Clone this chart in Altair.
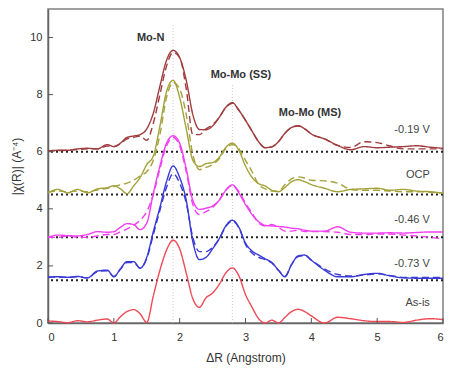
import altair as alt
import pandas as pd

R = [0, 0.15, 0.3, 0.45, 0.6, 0.75, 0.9, 1.0, 1.1, 1.2, 1.3, 1.4, 1.5, 1.6, 1.7, 1.8, 1.9, 2.0,
     2.1, 2.2, 2.3, 2.4, 2.5, 2.6, 2.7, 2.8, 2.9, 3.0, 3.1, 3.2, 3.3, 3.4, 3.5, 3.6, 3.7, 3.8,
     3.9, 4.0, 4.2, 4.4, 4.6, 4.8, 5.0, 5.2, 5.4, 5.6, 5.8, 6.0]

asis = [0.07, 0.05, 0.01, 0.08, 0.04, 0.1, 0.14, 0.0, 0.22, 0.4, 0.47, 0.32, 0.02, 0.95, 1.85, 2.55, 2.9, 2.6,
        1.75, 0.85, 0.55, 0.88, 1.05, 1.35, 1.75, 1.93, 1.65, 1.0, 0.55, 0.15, 0.0, 0.1, 0.0, 0.2, 0.4, 0.48,
        0.4, 0.25, 0.0, 0.2, 0.15, 0.08, 0.05, 0.05, 0.02, 0.1, 0.15, 0.12]

v073 = [1.61, 1.62, 1.6, 1.63, 1.58, 1.82, 1.85, 1.62, 1.9, 2.15, 2.15, 1.92, 2.3, 3.2, 4.05, 4.95, 5.5, 5.1,
        4.3, 2.85, 2.22, 2.3, 2.6, 2.95, 3.4, 3.6, 3.35, 2.8, 2.52, 2.38, 2.25, 2.12, 1.85, 1.62, 2.05, 2.35,
        2.38, 2.2, 1.85, 1.62, 1.62, 1.7, 1.74, 1.65, 1.58, 1.57, 1.57, 1.57]
v073d = [1.6, 1.61, 1.6, 1.62, 1.58, 1.8, 1.83, 1.63, 1.88, 2.12, 2.12, 1.92, 2.25, 3.1, 3.95, 4.75, 5.23, 4.9,
         4.2, 3.0, 2.5, 2.5, 2.65, 2.95, 3.38, 3.58, 3.33, 2.75, 2.45, 2.3, 2.22, 2.1, 1.85, 1.64, 2.05, 2.33,
         2.36, 2.2, 1.9, 1.7, 1.65, 1.68, 1.72, 1.66, 1.6, 1.6, 1.6, 1.6]

v046 = [3.0, 3.08, 3.06, 3.05, 3.1, 3.2, 3.18, 3.2, 3.35, 3.48, 3.45, 3.27, 3.5, 4.55, 5.5, 6.3, 6.56, 6.3,
        5.4, 4.3, 3.98, 4.02, 4.1, 4.3, 4.65, 4.84, 4.55, 4.15, 3.8, 3.55, 3.42, 3.4, 3.38, 3.36, 3.32, 3.3,
        3.25, 3.22, 3.22, 3.37, 3.18, 3.15, 3.15, 3.16, 3.15, 3.17, 3.19, 3.19]
v046d = [3.0, 3.0, 3.05, 3.0, 3.0, 3.05, 3.1, 3.1, 3.2, 3.3, 3.42, 3.6, 3.9, 4.5, 5.4, 6.2, 6.5, 6.2,
         5.3, 4.15, 3.8, 3.9, 4.05, 4.3, 4.65, 4.82, 4.6, 4.2, 3.85, 3.5, 3.4, 3.45, 3.35, 3.22, 3.22, 3.25,
         3.2, 3.2, 3.2, 3.18, 3.1, 3.1, 3.12, 3.12, 3.08, 3.05, 3.0, 2.95]

ocp = [4.56, 4.68, 4.56, 4.68, 4.56, 4.7, 4.74, 4.81, 4.7, 4.53, 4.8, 5.1, 5.55, 5.85, 6.9, 8.1, 8.5, 7.9,
       6.8, 5.7, 5.48, 5.58, 5.62, 5.8, 6.15, 6.3, 6.05, 5.5, 5.1, 4.88, 4.8, 4.65, 4.6, 4.75, 4.95, 5.02,
       4.95, 4.85, 4.72, 4.6, 4.68, 4.7, 4.72, 4.65, 4.68, 4.62, 4.6, 4.55]
ocpd = [4.58, 4.62, 4.6, 4.62, 4.6, 4.66, 4.72, 4.78, 4.84, 4.9, 5.0, 5.15, 5.3, 5.7, 6.6, 7.9, 8.42, 8.2,
        7.3, 5.9, 5.37, 5.45, 5.55, 5.75, 6.1, 6.25, 6.1, 5.7, 5.3, 4.85, 4.7, 4.62, 4.62, 4.85, 5.05, 5.12,
        5.08, 5.0, 4.98, 4.9, 4.68, 4.65, 4.65, 4.62, 4.6, 4.6, 4.58, 4.55]

v019 = [6.03, 6.05, 6.05, 6.1, 6.12, 6.1, 6.25, 6.18, 6.3, 6.5, 6.55, 6.6, 6.8, 7.35, 8.3, 9.2, 9.55, 9.3,
        8.5, 7.3, 6.78, 6.77, 6.9, 7.2, 7.55, 7.72, 7.45, 7.1, 6.72, 6.35, 6.14, 6.17, 6.35, 6.65, 6.85, 6.91,
        6.8, 6.62, 6.45, 6.22, 6.07, 6.18, 6.14, 6.16, 6.18, 6.21, 6.16, 6.12]
v019d = [6.02, 6.04, 6.05, 6.08, 6.1, 6.1, 6.2, 6.18, 6.28, 6.45, 6.5, 6.55, 6.4, 7.0, 8.0, 9.0, 9.48, 9.3,
         8.2, 6.6, 6.6, 6.8, 6.95, 7.2, 7.55, 7.7, 7.45, 7.1, 6.72, 6.35, 6.14, 6.17, 6.35, 6.65, 6.85, 6.9,
         6.8, 6.62, 6.45, 6.22, 6.15, 6.35, 6.32, 6.2, 6.1, 6.1, 6.1, 6.1]

series_names = ["As-is", "-0.73 V", "-0.46 V", "OCP", "-0.19 V"]
series_colors = ["#ee4a55", "#3a3ad6", "#f23ef2", "#a3a23a", "#a03c3e"]
solid_vals = [asis, v073, v046, ocp, v019]
dashed_vals = [None, v073d, v046d, ocpd, v019d]

label_y = [0.70, 2.07, 3.61, 5.19, 6.77]
baselines = [1.5, 3.0, 4.5, 6.0]

peak_names = ["Mo-N", "Mo-Mo (SS)", "Mo-Mo (MS)"]
peak_x = [1.56, 2.93, 3.98]
peak_y = [10.0, 8.7, 7.37]
vline_x = [1.9, 2.8]
vline_top = [10.45, 8.4]

x_ticks = [0, 1, 2, 3, 4, 5, 6]
y_ticks = [0, 2, 4, 6, 8, 10]

rows = []
for name, sv, dv in zip(series_names, solid_vals, dashed_vals):
    for r, v in zip(R, sv):
        rows.append({"R": r, "val": v, "series": name, "style": "fit"})
    if dv is not None:
        for r, v in zip(R, dv):
            rows.append({"R": r, "val": v, "series": name, "style": "data"})
df = pd.DataFrame(rows)

W, H = 395, 314
xs = alt.Scale(domain=[0, 6], nice=False)
ys = alt.Scale(domain=[0, 11], nice=False)
FONT = "Liberation Sans"

lines = alt.Chart(df).mark_line(interpolate="monotone", strokeWidth=1.4).encode(
    x=alt.X("R:Q", scale=xs, title="ΔR (Angstrom)",
            axis=alt.Axis(values=x_ticks, ticks=False, labelPadding=8, titlePadding=10, grid=False,
                          format="d")),
    y=alt.Y("val:Q", scale=ys, title="|χ(R)| (A⁻⁴)",
            axis=alt.Axis(values=y_ticks, ticks=False, labelPadding=6, titlePadding=6, grid=False,
                          format="d")),
    color=alt.Color("series:N", scale=alt.Scale(domain=series_names, range=series_colors), legend=None),
    strokeDash=alt.StrokeDash("style:N", scale=alt.Scale(domain=["fit", "data"], range=[[1, 0], [7, 4]]),
                              legend=None),
)

base_df = pd.DataFrame({"b": baselines})
base_rules = alt.Chart(base_df).mark_rule(color="#222222", strokeDash=[2, 3], strokeWidth=2).encode(
    y=alt.Y("b:Q", scale=ys)
)

vl_df = pd.DataFrame({"x": vline_x, "top": vline_top, "bot": [0, 0]})
vrules = alt.Chart(vl_df).mark_rule(color="#d6c4c6", strokeDash=[1, 2], strokeWidth=1).encode(
    x=alt.X("x:Q", scale=xs), y=alt.Y("bot:Q", scale=ys), y2="top:Q"
)

pk_df = pd.DataFrame({"t": peak_names, "x": peak_x, "y": peak_y})
peaks = alt.Chart(pk_df).mark_text(font=FONT, fontSize=11, fontWeight="bold", color="#333333").encode(
    x=alt.X("x:Q", scale=xs), y=alt.Y("y:Q", scale=ys), text="t:N"
)

lab_df = pd.DataFrame({"t": series_names, "y": label_y, "x": [5.8] * 5})
labels = alt.Chart(lab_df).mark_text(font=FONT, fontSize=11, align="right", color="#444444").encode(
    x=alt.X("x:Q", scale=xs), y=alt.Y("y:Q", scale=ys), text="t:N"
)

xt_df = pd.DataFrame({"v": x_ticks})
xticks = alt.Chart(xt_df).mark_rule(color="#555555", strokeWidth=1).encode(
    x=alt.X("v:Q", scale=xs), y=alt.value(H), y2=alt.value(H - 5)
)
yt_df = pd.DataFrame({"v": y_ticks})
yticks = alt.Chart(yt_df).mark_rule(color="#555555", strokeWidth=1).encode(
    y=alt.Y("v:Q", scale=ys), x=alt.value(0), x2=alt.value(5)
)

chart = alt.layer(vrules, base_rules, lines, peaks, labels, xticks, yticks).properties(
    width=W, height=H,
    autosize=alt.AutoSizeParams(type="none"),
    padding={"left": 40, "top": 1, "right": 20, "bottom": 45},
).configure_view(
    stroke="#808080", strokeWidth=1.5
).configure_axis(
    domainColor="#666666", domainWidth=1.5, labelFont=FONT, titleFont=FONT,
    labelFontSize=11, titleFontSize=12, labelColor="#333333", titleColor="#333333",
    titleFontWeight="normal"
)

chart.save("out.html", embed_options={"renderer": "svg", "actions": False})
